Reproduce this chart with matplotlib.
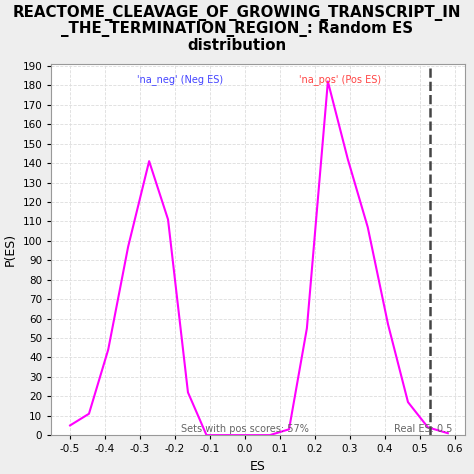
import matplotlib
matplotlib.use("Agg")
import matplotlib.pyplot as plt

es = [-0.5, -0.446, -0.391, -0.334, -0.274, -0.22, -0.163, -0.11, -0.053, 0.0, 0.071, 0.126, 0.177, 0.237, 0.294, 0.351, 0.409, 0.466, 0.523, 0.58]
pes = [5, 11, 44, 97, 141, 111, 22, 0, 0, 0, 0, 3, 55, 182, 142, 107, 57, 17, 4, 1]
real_es = 0.53

fig = plt.figure(figsize=(4.74, 4.74), dpi=100, facecolor="#eeeeee")
ax = fig.add_axes([0.108, 0.082, 0.873, 0.783])
ax.set_facecolor("white")
ax.plot(es, pes, color="#ff00ff", lw=1.5)
ax.axvline(real_es, color="#444444", ls="--", lw=1.8)
ax.set_xlim(-0.554, 0.629)
ax.set_ylim(0, 191)
ax.set_xticks([-0.5, -0.4, -0.3, -0.2, -0.1, 0.0, 0.1, 0.2, 0.3, 0.4, 0.5, 0.6])
ax.set_xticklabels(["-0.5", "-0.4", "-0.3", "-0.2", "-0.1", "0.0", "0.1", "0.2", "0.3", "0.4", "0.5", "0.6"])
ax.set_yticks(range(0, 191, 10))
ax.tick_params(labelsize=7.5, length=3)
ax.grid(True, color="#dddddd", ls="--", lw=0.6)
for s in ax.spines.values():
    s.set_color("#999999")
ax.set_xlabel("ES", fontsize=9)
ax.set_ylabel("P(ES)", fontsize=9)
ax.text(-0.186, 186, "'na_neg' (Neg ES)", color="#4444ff", fontsize=7, ha="center", va="top")
ax.text(0.271, 186, "'na_pos' (Pos ES)", color="#ff4444", fontsize=7, ha="center", va="top")
ax.text(0.0, 0.5, "Sets with pos scores: 57%", color="#666666", fontsize=7, ha="center", va="bottom")
ax.text(0.51, 0.5, "Real ES: 0.5", color="#666666", fontsize=7, ha="center", va="bottom")
fig.suptitle("REACTOME_CLEAVAGE_OF_GROWING_TRANSCRIPT_IN\n_THE_TERMINATION_REGION_: Random ES\ndistribution",
             fontsize=10.8, fontweight="bold", y=0.99, linespacing=1.05)
fig.savefig("out.png", dpi=100, facecolor=fig.get_facecolor())
